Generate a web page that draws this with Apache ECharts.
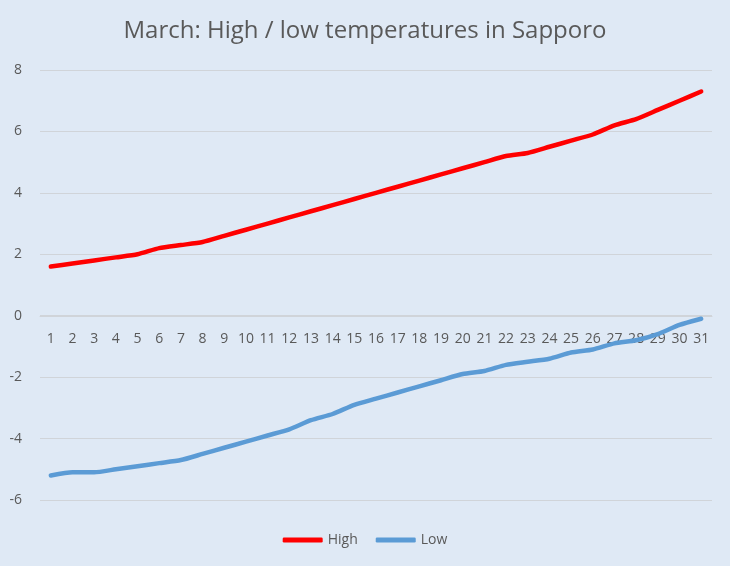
<!DOCTYPE html>
<html>
<head>
<meta charset="utf-8">
<script src="https://cdn.jsdelivr.net/npm/echarts@6/dist/echarts.min.js"></script>
<style>
  html, body { margin: 0; padding: 0; background: #dfe9f5; }
  #chart { width: 730px; height: 566px; }
</style>
</head>
<body>
<div id="chart"></div>
<script>
const days = Array.from({ length: 31 }, (_, i) => String(i + 1))
const high = [1.6, 1.7, 1.8, 1.9, 2.0, 2.2, 2.3, 2.4, 2.6, 2.8, 3.0, 3.2, 3.4, 3.6, 3.8, 4.0,
  4.2, 4.4, 4.6, 4.8, 5.0, 5.2, 5.3, 5.5, 5.7, 5.9, 6.2, 6.4, 6.7, 7.0, 7.3]
const low = [-5.2, -5.1, -5.1, -5.0, -4.9, -4.8, -4.7, -4.5, -4.3, -4.1, -3.9, -3.7, -3.4, -3.2, -2.9, -2.7,
  -2.5, -2.3, -2.1, -1.9, -1.8, -1.6, -1.5, -1.4, -1.2, -1.1, -0.9, -0.8, -0.6, -0.3, -0.1]

const chart = echarts.init(document.getElementById('chart'))
const textFont = "'Open Sans', 'Liberation Sans', sans-serif"
const option = {
  backgroundColor: '#dfe9f5',
  title: {
    text: 'March: High / low temperatures in Sapporo',
    left: 'center',
    top: 14,
    textStyle: { color: '#595959', fontSize: 24, fontWeight: 'normal', fontFamily: textFont }
  },
  legend: {
    bottom: 14,
    left: 'center',
    itemWidth: 40,
    itemHeight: 5,
    itemGap: 18,
    icon: 'roundRect',
    textStyle: { color: '#595959', fontSize: 14, fontFamily: textFont },
    data: ['High', 'Low']
  },
  grid: { left: 40, right: 18, top: 70, bottom: 66 },
  xAxis: {
    type: 'category',
    data: days,
    boundaryGap: true,
    // labels sit under the zero line, like the original
    offset: -184,
    axisLine: { onZero: false, lineStyle: { color: '#d0d4d9', width: 1 } },
    axisTick: { show: false },
    axisLabel: { color: '#595959', fontSize: 14, fontFamily: textFont, margin: 16, interval: 0 }
  },
  yAxis: {
    type: 'value',
    min: -6,
    max: 8,
    interval: 2,
    axisLine: { show: false },
    axisTick: { show: false },
    axisLabel: { color: '#595959', fontSize: 14, fontFamily: textFont, margin: 18 },
    splitLine: { lineStyle: { color: '#d0d4d9', width: 1 } }
  },
  series: [
    {
      name: 'High',
      type: 'line',
      data: high,
      smooth: 0.2,
      symbol: 'none',
      lineStyle: { color: '#ff0000', width: 4.5, cap: 'round' },
      itemStyle: { color: '#ff0000' }
    },
    {
      name: 'Low',
      type: 'line',
      data: low,
      smooth: 0.2,
      symbol: 'none',
      lineStyle: { color: '#5b9bd5', width: 4.5, cap: 'round' },
      itemStyle: { color: '#5b9bd5' }
    }
  ]
}
chart.setOption(option)
</script>
</body>
</html>
